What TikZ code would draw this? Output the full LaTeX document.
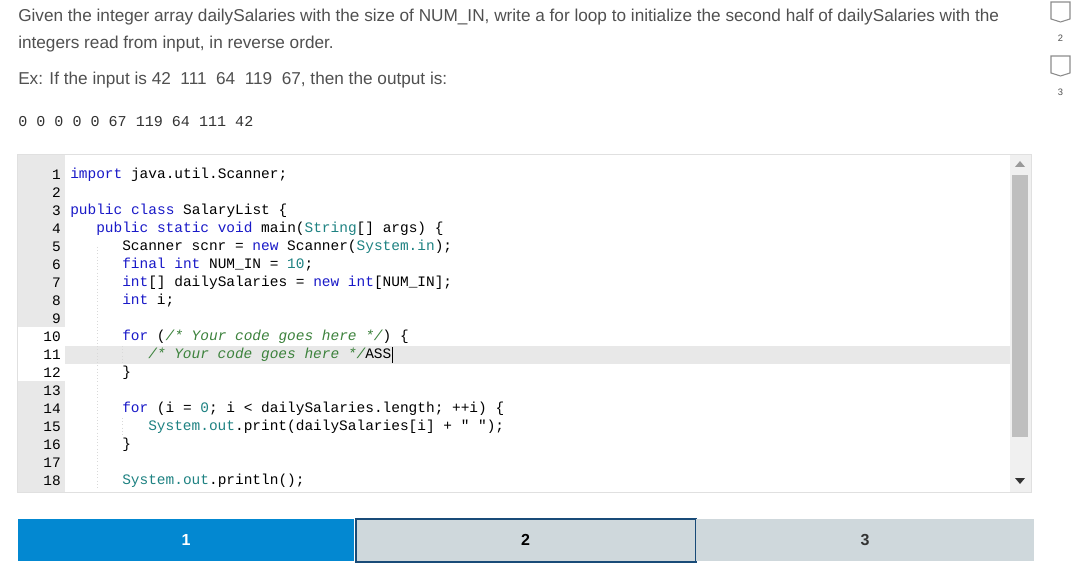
\documentclass[tikz,border=0pt]{standalone}
\usepackage{fontspec}
\setmainfont{Liberation Sans}
\setmonofont{Liberation Mono}
\definecolor{kw}{RGB}{25,25,200}
\definecolor{ty}{RGB}{30,130,130}
\definecolor{cm}{RGB}{60,130,60}
\definecolor{txt}{RGB}{80,80,80}
\definecolor{gut}{RGB}{232,232,232}
\definecolor{tabblue}{RGB}{3,136,209}
\definecolor{tabgray}{RGB}{207,216,220}
\definecolor{tabborder}{RGB}{25,75,120}
\newcommand{\kw}[1]{\textcolor{kw}{#1}}
\newcommand{\ty}[1]{\textcolor{ty}{#1}}
\newcommand{\cm}[1]{\textcolor{cm}{\itshape #1}}
\begin{document}
\begin{tikzpicture}[x=0.75pt,y=-0.75pt,
  para/.style={anchor=west,inner sep=0,font=\fontsize{12.9}{15}\selectfont,text=txt},
  code/.style={anchor=west,inner sep=0,font=\ttfamily\fontsize{10.85}{12}\selectfont},
  lnum/.style={anchor=east,inner sep=0,font=\ttfamily\fontsize{10.85}{12}\selectfont},
  tab/.style={minimum width=338*0.75pt,minimum height=42*0.75pt,inner sep=0,font=\bfseries\fontsize{12}{14}\selectfont}]
\useasboundingbox[fill=white] (0,0) rectangle (1084,570);
% paragraph
\node[para] (p1) at (18,17) {Given the integer array dailySalaries with the size of NUM\_IN, write a for loop to initialize the second half of dailySalaries with the};
\node[para] (p2) at (18,44) {integers read from input, in reverse order.};
\node[para] (p3) at (18,80) {Ex: If the input is 42\ \ 111\ \ 64\ \ 119\ \ 67, then the output is:};
\node[para,font=\ttfamily\fontsize{11.3}{13}\selectfont,text=black!80] (p4) at (18,122) {0 0 0 0 0 67 119 64 111 42};
% icons
\foreach \yy/\lab in {2/2,56/3}{
  \draw[gray!90,line width=0.8pt] (1051,\yy) -- (1070,\yy) -- (1070,\yy+17) -- (1060.5,\yy+20) -- (1051,\yy+17) -- cycle;
  \node[inner sep=0,font=\fontsize{7}{8}\selectfont,text=txt] (ic\lab) at (1060.5,\yy+36) {\lab};
}
% editor
\fill[black!12] (17,154) rectangle (1032,493);
\fill[white] (18,155) rectangle (1031,492);
\fill[gut] (18,155) rectangle (65,492);
\fill[white] (18,327) rectangle (65,381);
\fill[gut] (65,346) rectangle (1010,364);
\fill[black!6] (1010,155) rectangle (1031,492);
\fill[black!25] (1012,175) rectangle (1028,437);
\fill[black!40] (1015,167) -- (1025,167) -- (1020,161) -- cycle;
\fill[black!80] (1015,478) -- (1025,478) -- (1020,484) -- cycle;
\draw[black!15,dotted] (97,247) -- (97,488);
\draw[black!15,dotted] (122,346) -- (122,364);
\draw[black!15,dotted] (122,418) -- (122,436);
\foreach \n in {1,...,18}{
  \node[lnum] (n\n) at (61,175+18*\n-18) {\n};
}
\node[code] (c1) at (70,175) {\kw{import} java.util.Scanner;};
\node[code] (c3) at (70,211) {\kw{public} \kw{class} SalaryList \{};
\node[code] (c4) at (96,229) {\kw{public} \kw{static} \kw{void} main(\ty{String}[] args) \{};
\node[code] (c5) at (122,247) {Scanner scnr = \kw{new} Scanner(\ty{System.in});};
\node[code] (c6) at (122,265) {\kw{final} \kw{int} NUM\_IN = \ty{10};};
\node[code] (c7) at (122,283) {\kw{int}[] dailySalaries = \kw{new} \kw{int}[NUM\_IN];};
\node[code] (c8) at (122,301) {\kw{int} i;};
\node[code] (c10) at (122,337) {\kw{for} (\cm{/* Your code goes here */}) \{};
\node[code] (c11) at (148,355) {\cm{/* Your code goes here */}ASS};
\draw[black,line width=1pt] (c11.east) ++(1,-8) -- ++(0,16);
\node[code] (c12) at (122,373) {\}};
\node[code] (c14) at (122,409) {\kw{for} (i = \ty{0}; i < dailySalaries.length; ++i) \{};
\node[code] (c15) at (148,427) {\ty{System.out}.print(dailySalaries[i] + " ");};
\node[code] (c16) at (122,445) {\}};
\node[code] (c18) at (122,481) {\ty{System.out}.println();};
% tabs
\node[tab,fill=tabblue,text=white,minimum width=336*0.75pt] (t1) at (186,540) {1};
\node[tab,fill=tabgray,draw=tabborder,line width=1.5pt,minimum width=340*0.75pt,minimum height=43*0.75pt] (t2) at (525.5,540) {2};
\node[tab,fill=tabgray,text=black!80] (t3) at (865,540) {3};
\end{tikzpicture}
\end{document}
